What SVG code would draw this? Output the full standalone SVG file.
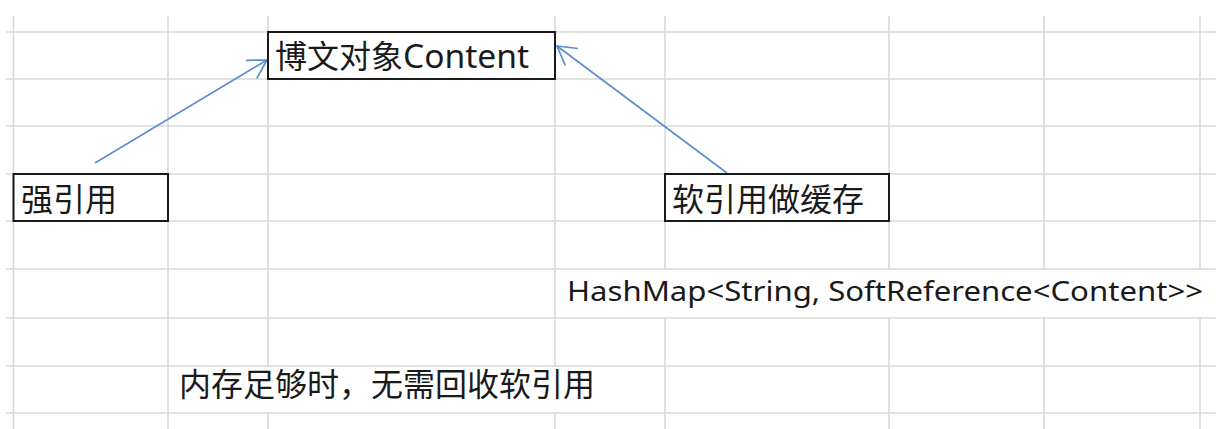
<svg xmlns="http://www.w3.org/2000/svg" width="1221" height="429" viewBox="0 0 1221 429">
  <style>
    .grid { stroke: #d9d9d9; stroke-width: 1.6; fill: none; }
    .box { fill: #ffffff; stroke: #1a1a1a; stroke-width: 2; }
    .cjk { font-family: "Noto Sans CJK SC", "Noto Sans", sans-serif; font-size: 32px; fill: #1a1a1a; }
    .lat { font-family: "Noto Sans", "Open Sans", sans-serif; fill: #1a1a1a; }
    .conn { stroke: #5b8fcf; stroke-width: 1.7; fill: none; }
  </style>
  <defs>
    <marker id="open" markerUnits="userSpaceOnUse" markerWidth="24" markerHeight="26" refX="21" refY="12" orient="auto" overflow="visible">
      <path d="M2.8,1.5 L21,12 L2.8,22.5" fill="none" stroke="#5b8fcf" stroke-width="1.7"/>
    </marker>
  </defs>
  <rect width="1221" height="429" fill="#ffffff"/>
  <g id="grid" class="grid">
    <path d="M6,32H1216M6,79H1216M6,126H1216M6,174H1216M6,221H1216M6,269H1216M6,318H1216M6,366H1216M6,413H1216"/>
    <path d="M13.5,16V429M168,16V429M268,16V429M555,16V429M665,16V429M889,16V429M1044,16V429M1200,16V429"/>
  </g>
  <!-- overflow cells hiding gridlines -->
  <rect x="556" y="270" width="665" height="47" fill="#ffffff"/>
  <rect x="169" y="367" width="495" height="45" fill="#ffffff"/>
  <g id="connectors">
    <line class="conn" x1="95" y1="163" x2="267" y2="60" marker-end="url(#open)"/>
    <line class="conn" x1="727" y1="173" x2="557" y2="46" marker-end="url(#open)"/>
  </g>
  <g id="node-content">
    <rect class="box" x="268" y="32" width="287" height="47"/>
    <text class="cjk" x="275" y="68">博文对象<tspan class="lat" font-size="32" textLength="126" lengthAdjust="spacingAndGlyphs">Content</tspan></text>
  </g>
  <g id="node-strong">
    <rect class="box" x="13.5" y="174" width="154.5" height="47"/>
    <text class="cjk" x="21" y="211">强引用</text>
  </g>
  <g id="node-soft">
    <rect class="box" x="665" y="174" width="224" height="47"/>
    <text class="cjk" x="672" y="211">软引用做缓存</text>
  </g>
  <g id="label-hashmap">
    <text class="lat" x="567" y="301" font-size="28" textLength="636" lengthAdjust="spacingAndGlyphs">HashMap&lt;String, SoftReference&lt;Content&gt;&gt;</text>
  </g>
  <g id="label-memory">
    <text class="cjk" x="179" y="396">内存足够时，无需回收软引用</text>
  </g>
</svg>
